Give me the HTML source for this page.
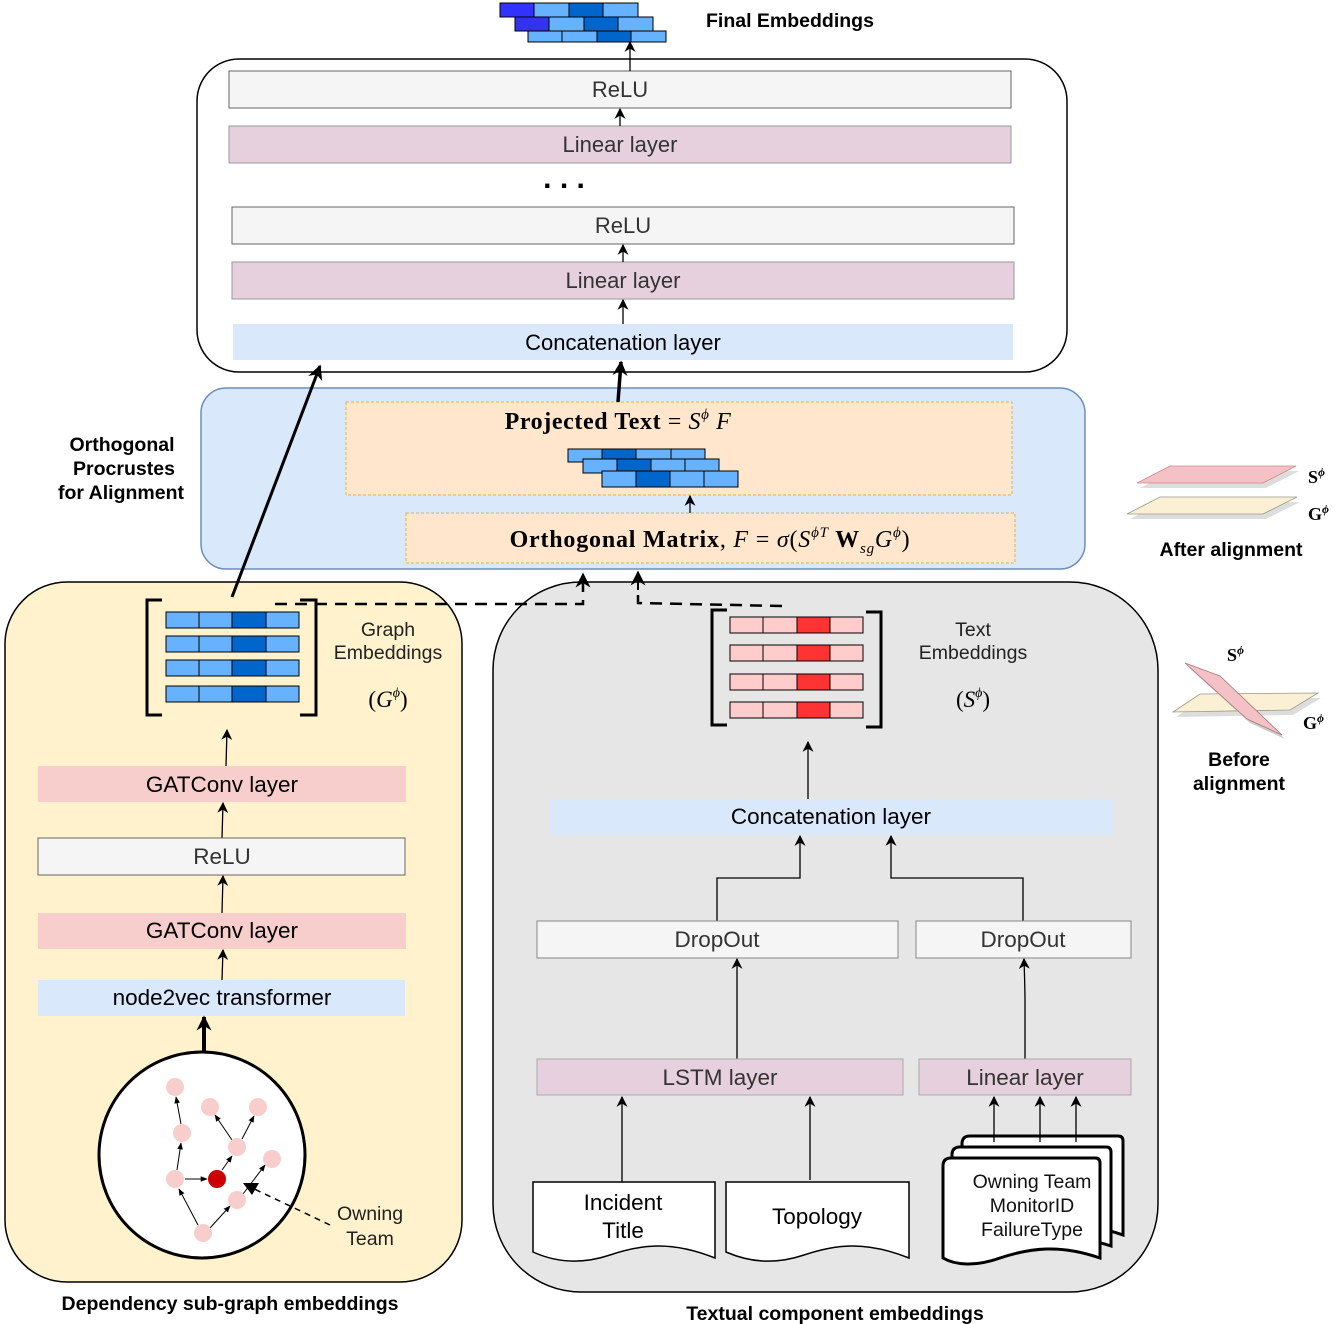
<!DOCTYPE html>
<html><head><meta charset="utf-8"><style>
html,body{margin:0;padding:0;background:#fff;}
svg{display:block;}
text{font-family:"Liberation Sans",sans-serif;}
.m{font-family:"Liberation Serif","DejaVu Serif",serif;}
</style></head><body>
<svg width="1336" height="1324" viewBox="0 0 1336 1324" xmlns="http://www.w3.org/2000/svg">
<defs>
<marker id="a" viewBox="0 0 10 10" refX="9" refY="5" markerWidth="11" markerHeight="11" orient="auto-start-reverse" markerUnits="userSpaceOnUse"><path d="M0,0 L10,5 L0,10 L3,5 z" fill="#000"/></marker>
<marker id="A" viewBox="0 0 10 10" refX="9" refY="5" markerWidth="15" markerHeight="15" orient="auto" markerUnits="userSpaceOnUse"><path d="M0,0 L10,5 L0,10 L3,5 z" fill="#000"/></marker>
<marker id="as" viewBox="0 0 10 10" refX="9" refY="5" markerWidth="7" markerHeight="7" orient="auto" markerUnits="userSpaceOnUse"><path d="M0,1 L10,5 L0,9 z" fill="#000"/></marker>
</defs>

<!-- top box -->
<rect x="197" y="59" width="870" height="313" rx="42" fill="#fff" stroke="#000" stroke-width="1.5"/>
<rect x="229" y="71" width="782" height="37" fill="#f5f5f5" stroke="#666"/>
<text x="620" y="97" font-size="22" text-anchor="middle" fill="#333">ReLU</text>
<rect x="229" y="126" width="782" height="37" fill="#e6d0de" stroke="#999"/>
<text x="620" y="152" font-size="22" text-anchor="middle" fill="#333">Linear layer</text>
<text x="564" y="188" font-size="30" font-weight="bold" text-anchor="middle">. . .</text>
<rect x="232" y="207" width="782" height="37" fill="#f5f5f5" stroke="#666"/>
<text x="623" y="233" font-size="22" text-anchor="middle" fill="#333">ReLU</text>
<rect x="232" y="262" width="782" height="37" fill="#e6d0de" stroke="#999"/>
<text x="623" y="288" font-size="22" text-anchor="middle" fill="#333">Linear layer</text>
<rect x="233" y="324" width="780" height="36" fill="#dae8fc"/>
<text x="623" y="350" font-size="22" text-anchor="middle">Concatenation layer</text>
<line x1="620" y1="126" x2="620" y2="109" stroke="#000" stroke-width="1.3" marker-end="url(#a)"/>
<line x1="623" y1="262" x2="623" y2="245" stroke="#000" stroke-width="1.3" marker-end="url(#a)"/>
<line x1="623" y1="324" x2="623" y2="300" stroke="#000" stroke-width="1.3" marker-end="url(#a)"/>
<line x1="630" y1="71" x2="630" y2="42" stroke="#000" stroke-width="1.3" marker-end="url(#a)"/>

<!-- final embeddings bricks -->
<g stroke="#000" stroke-width="1">
<rect x="500" y="3" width="34" height="14" fill="#3333ff"/><rect x="534" y="3" width="35" height="14" fill="#66b2ff"/><rect x="569" y="3" width="34" height="14" fill="#0066cc"/><rect x="603" y="3" width="35" height="14" fill="#66b2ff"/>
<rect x="515" y="17" width="34" height="14" fill="#3333ee"/><rect x="549" y="17" width="35" height="14" fill="#66b2ff"/><rect x="584" y="17" width="34" height="14" fill="#0066cc"/><rect x="618" y="17" width="35" height="14" fill="#66b2ff"/>
<rect x="528" y="31" width="34" height="11" fill="#66b2ff"/><rect x="562" y="31" width="35" height="11" fill="#66b2ff"/><rect x="597" y="31" width="34" height="11" fill="#0066cc"/><rect x="631" y="31" width="35" height="11" fill="#66b2ff"/>
</g>
<text x="706" y="27" font-size="19.5" font-weight="bold">Final Embeddings</text>

<!-- middle box -->
<rect x="201" y="388" width="884" height="181" rx="25" fill="#dae8fc" stroke="#6c8ebf" stroke-width="1.5"/>
<rect x="346" y="402" width="666" height="93" fill="#ffe6cc" stroke="#d6b656" stroke-dasharray="3,2"/>
<rect x="406" y="513" width="609" height="50" fill="#ffe6cc" stroke="#d6b656" stroke-dasharray="3,2"/>
<text x="618" y="429" font-size="24" text-anchor="middle" class="m" letter-spacing="0.6"><tspan font-weight="bold">Projected Text</tspan> = <tspan font-style="italic">S</tspan><tspan font-size="15" dy="-10" font-style="italic">ϕ</tspan><tspan dy="10" font-style="italic"> F</tspan></text>
<text x="710" y="547" font-size="24" text-anchor="middle" class="m" letter-spacing="0.8"><tspan font-weight="bold">Orthogonal Matrix</tspan>, <tspan font-style="italic">F</tspan> = <tspan font-style="italic">σ</tspan>(<tspan font-style="italic">S</tspan><tspan font-size="15" dy="-10" font-style="italic">ϕT</tspan><tspan dy="10" font-weight="bold"> W</tspan><tspan font-size="15" dy="6" font-style="italic">sg</tspan><tspan dy="-6" font-style="italic">G</tspan><tspan font-size="15" dy="-10" font-style="italic">ϕ</tspan><tspan dy="10">)</tspan></text>
<g stroke="#000" stroke-width="1">
<rect x="568" y="449" width="34" height="13" fill="#66b2ff"/><rect x="602" y="449" width="34" height="13" fill="#0066cc"/><rect x="636" y="449" width="35" height="13" fill="#66b2ff"/><rect x="671" y="449" width="34" height="13" fill="#66b2ff"/>
<rect x="583" y="459" width="34" height="14" fill="#66b2ff"/><rect x="617" y="459" width="34" height="14" fill="#0066cc"/><rect x="651" y="459" width="34" height="14" fill="#66b2ff"/><rect x="685" y="459" width="34" height="14" fill="#66b2ff"/>
<rect x="602" y="471" width="34" height="16" fill="#66b2ff"/><rect x="636" y="471" width="34" height="16" fill="#0066cc"/><rect x="670" y="471" width="34" height="16" fill="#66b2ff"/><rect x="704" y="471" width="34" height="16" fill="#66b2ff"/>
</g>
<line x1="690" y1="513" x2="690" y2="496" stroke="#000" stroke-width="1.3" marker-end="url(#a)"/>
<line x1="618" y1="402" x2="621" y2="362" stroke="#000" stroke-width="3.5" marker-end="url(#A)"/>

<text font-size="19.5" font-weight="bold" text-anchor="middle"><tspan x="122" y="451">Orthogonal</tspan><tspan x="124" y="475">Procrustes</tspan><tspan x="121" y="499">for Alignment</tspan></text>

<!-- left box -->
<rect x="5" y="582" width="457" height="700" rx="62" fill="#fff2cc" stroke="#000" stroke-width="1.5"/>
<!-- right box -->
<rect x="493" y="582" width="665" height="710" rx="88" fill="#e6e6e6" stroke="#000" stroke-width="1.5"/>

<!-- graph matrix -->
<path d="M162,600 H147 V715 H162 M300,600 H316 V715 H300" fill="none" stroke="#000" stroke-width="3"/>
<g stroke="#000" stroke-width="1">
<g id="gr"><rect x="166" y="612" width="33" height="16" fill="#66b2ff"/><rect x="199" y="612" width="33" height="16" fill="#66b2ff"/><rect x="232" y="612" width="34" height="16" fill="#0066cc"/><rect x="266" y="612" width="33" height="16" fill="#66b2ff"/></g>
<use href="#gr" y="24"/><use href="#gr" y="48"/><use href="#gr" y="74"/>
</g>
<text font-size="19.5" text-anchor="middle" fill="#222"><tspan x="388" y="636">Graph</tspan><tspan x="388" y="659">Embeddings</tspan></text>
<text x="388" y="707" font-size="23" text-anchor="middle" class="m">(<tspan font-style="italic">G</tspan><tspan font-size="14" dy="-10" font-style="italic">ϕ</tspan><tspan dy="10">)</tspan></text>

<line x1="232" y1="597" x2="320" y2="366" stroke="#000" stroke-width="3" marker-end="url(#A)"/>
<path d="M275,604 H583 V575" fill="none" stroke="#000" stroke-width="2.5" stroke-dasharray="12,8"/>
<path d="M583,590 V574" stroke="#000" stroke-width="2" marker-end="url(#A)"/>
<path d="M782,606 L638,603 V588" fill="none" stroke="#000" stroke-width="2.5" stroke-dasharray="12,8"/>
<path d="M638,590 V572" stroke="#000" stroke-width="2" marker-end="url(#A)"/>

<line x1="226" y1="766" x2="227" y2="730" stroke="#000" stroke-width="1.3" marker-end="url(#a)"/>
<rect x="38" y="766" width="368" height="36" fill="#f8cecc"/>
<text x="222" y="792" font-size="22.5" text-anchor="middle">GATConv layer</text>
<line x1="222" y1="838" x2="223" y2="803" stroke="#000" stroke-width="1.3" marker-end="url(#a)"/>
<rect x="38" y="838" width="367" height="37" fill="#f5f5f5" stroke="#666"/>
<text x="222" y="864" font-size="22.5" text-anchor="middle" fill="#333">ReLU</text>
<line x1="222" y1="913" x2="223" y2="876" stroke="#000" stroke-width="1.3" marker-end="url(#a)"/>
<rect x="38" y="913" width="368" height="36" fill="#f8cecc"/>
<text x="222" y="938" font-size="22.5" text-anchor="middle">GATConv layer</text>
<line x1="222" y1="980" x2="223" y2="950" stroke="#000" stroke-width="1.3" marker-end="url(#a)"/>
<rect x="38" y="980" width="367" height="36" fill="#dae8fc"/>
<text x="222" y="1005" font-size="22.5" text-anchor="middle">node2vec transformer</text>
<line x1="204" y1="1055" x2="204" y2="1017" stroke="#000" stroke-width="4" marker-end="url(#A)"/>

<!-- graph circle -->
<circle cx="202" cy="1155" r="103" fill="#fff" stroke="#000" stroke-width="3"/>
<g stroke="#000" stroke-width="1" marker-end="url(#as)">
<line x1="181" y1="1124" x2="176" y2="1097"/>
<line x1="177" y1="1170" x2="181" y2="1143"/>
<line x1="185" y1="1179" x2="207" y2="1179"/>
<line x1="198" y1="1225" x2="179" y2="1189"/>
<line x1="210" y1="1228" x2="230" y2="1206"/>
<line x1="243" y1="1194" x2="265" y2="1165"/>
<line x1="222" y1="1170" x2="232" y2="1156"/>
<line x1="232" y1="1140" x2="215" y2="1115"/>
<line x1="242" y1="1139" x2="254" y2="1116"/>
</g>
<g fill="#f8cecc">
<circle cx="175" cy="1087" r="9"/><circle cx="210" cy="1107" r="9"/><circle cx="258" cy="1107" r="9"/><circle cx="182" cy="1133" r="9"/><circle cx="237" cy="1147" r="9"/><circle cx="272" cy="1159" r="9"/><circle cx="175" cy="1179" r="9"/><circle cx="237" cy="1200" r="9"/><circle cx="203" cy="1233" r="9"/>
</g>
<circle cx="217" cy="1179" r="9" fill="#cc0000"/>
<line x1="330" y1="1225" x2="248" y2="1186" stroke="#000" stroke-width="1.5" stroke-dasharray="6,5"/>
<path d="M243,1183 L259,1183 L252,1195 z" fill="#000"/>
<text font-size="19.5" text-anchor="middle" fill="#222"><tspan x="370" y="1220">Owning</tspan><tspan x="370" y="1245">Team</tspan></text>
<text x="230" y="1310" font-size="19.5" font-weight="bold" text-anchor="middle">Dependency sub-graph embeddings</text>

<!-- text matrix -->
<path d="M727,610 H712 V725 H727 M866,727 H881 V612 H866" fill="none" stroke="#000" stroke-width="3"/>
<g stroke="#000" stroke-width="1">
<g id="tr"><rect x="730" y="617" width="33" height="16" fill="#ffcccc"/><rect x="763" y="617" width="34" height="16" fill="#ffcccc"/><rect x="797" y="617" width="33" height="16" fill="#ff3333"/><rect x="830" y="617" width="33" height="16" fill="#ffcccc"/></g>
<use href="#tr" y="28"/><use href="#tr" y="57"/><use href="#tr" y="85"/>
</g>
<text font-size="19.5" text-anchor="middle" fill="#222"><tspan x="973" y="636">Text</tspan><tspan x="973" y="659">Embeddings</tspan></text>
<text x="973" y="707" font-size="23" text-anchor="middle" class="m">(<tspan font-style="italic">S</tspan><tspan font-size="14" dy="-10" font-style="italic">ϕ</tspan><tspan dy="10">)</tspan></text>

<line x1="808" y1="799" x2="808" y2="742" stroke="#000" stroke-width="1.3" marker-end="url(#a)"/>
<rect x="549" y="799" width="565" height="36" fill="#dae8fc"/>
<text x="831" y="824" font-size="22.5" text-anchor="middle">Concatenation layer</text>
<path d="M717,921 V878 H800 V836" fill="none" stroke="#000" stroke-width="1.3" marker-end="url(#a)"/>
<path d="M1023,921 V878 H891 V836" fill="none" stroke="#000" stroke-width="1.3" marker-end="url(#a)"/>
<rect x="537" y="921" width="361" height="37" fill="#f5f5f5" stroke="#888"/>
<text x="717" y="947" font-size="22.5" text-anchor="middle" fill="#333">DropOut</text>
<rect x="916" y="921" width="215" height="37" fill="#f5f5f5" stroke="#888"/>
<text x="1023" y="947" font-size="22.5" text-anchor="middle" fill="#333">DropOut</text>
<line x1="737" y1="1059" x2="737" y2="959" stroke="#000" stroke-width="1.3" marker-end="url(#a)"/>
<path d="M1025,1059 V1000 Q1025,990 1024,959" fill="none" stroke="#000" stroke-width="1.3" marker-end="url(#a)"/>
<rect x="537" y="1059" width="366" height="36" fill="#e6d0de" stroke="#aaa"/>
<text x="720" y="1085" font-size="22.5" text-anchor="middle" fill="#333">LSTM layer</text>
<rect x="919" y="1059" width="212" height="36" fill="#e6d0de" stroke="#aaa"/>
<text x="1025" y="1085" font-size="22.5" text-anchor="middle" fill="#333">Linear layer</text>
<line x1="622" y1="1182" x2="622" y2="1097" stroke="#000" stroke-width="1.3" marker-end="url(#a)"/>
<line x1="810" y1="1180" x2="810" y2="1097" stroke="#000" stroke-width="1.3" marker-end="url(#a)"/>

<!-- docs -->
<path d="M533,1182 H715 V1258 C670,1240 640,1245 610,1255 C580,1265 555,1262 533,1252 Z" fill="#fff" stroke="#000" stroke-width="1.5"/>
<text font-size="22.5" text-anchor="middle"><tspan x="623" y="1210">Incident</tspan><tspan x="623" y="1238">Title</tspan></text>
<path d="M726,1182 H909 V1258 C864,1240 834,1245 804,1255 C774,1265 749,1262 726,1252 Z" fill="#fff" stroke="#000" stroke-width="1.5"/>
<text x="817" y="1224" font-size="22.5" text-anchor="middle">Topology</text>
<g fill="#fff" stroke="#000" stroke-width="3">
<path d="M970,1136 H1118 Q1123,1136 1123,1141 V1235 C1080,1220 1050,1225 1020,1235 L962,1230 V1144 Q962,1136 970,1136 Z"/>
<path d="M960,1147 H1106 Q1111,1147 1111,1152 V1246 C1070,1232 1040,1236 1010,1246 L952,1240 V1155 Q952,1147 960,1147 Z"/>
<path d="M951,1158 H1095 Q1100,1158 1100,1163 V1258 C1060,1244 1030,1248 1000,1258 C975,1267 955,1265 943,1258 V1166 Q943,1158 951,1158 Z"/>
</g>
<g stroke="#000" stroke-width="1.3" marker-end="url(#a)">
<line x1="994" y1="1142" x2="994" y2="1097"/><line x1="1040" y1="1142" x2="1040" y2="1097"/><line x1="1076" y1="1142" x2="1076" y2="1097"/>
</g>
<text font-size="19.5" text-anchor="middle" fill="#111"><tspan x="1032" y="1188">Owning Team</tspan><tspan x="1032" y="1212">MonitorID</tspan><tspan x="1032" y="1236">FailureType</tspan></text>
<text x="835" y="1320" font-size="19.5" font-weight="bold" text-anchor="middle">Textual component embeddings</text>

<!-- planes -->
<polygon points="1140,488 1173,471 1299,471 1266,488" fill="#ddd"/>
<polygon points="1137,483 1170,466 1296,466 1263,483" fill="#f4c2c6" stroke="#c88" stroke-width="0.8"/>
<polygon points="1130,519 1163,502 1300,502 1266,519" fill="#ddd"/>
<polygon points="1127,514 1160,497 1297,497 1263,514" fill="#fbf0d4" stroke="#998" stroke-width="0.8"/>
<text x="1308" y="483" font-size="18" font-weight="bold" class="m">S<tspan font-size="12" dy="-7" font-style="italic">ϕ</tspan></text>
<text x="1308" y="520" font-size="18" font-weight="bold" class="m">G<tspan font-size="12" dy="-7" font-style="italic">ϕ</tspan></text>
<text x="1231" y="556" font-size="19.5" font-weight="bold" text-anchor="middle">After alignment</text>

<polygon points="1176,717 1203,699 1321,698 1293,715" fill="#ddd"/>
<polygon points="1173,712 1200,694 1318,693 1290,710" fill="#fbf0d4" stroke="#998" stroke-width="0.8"/>
<polygon points="1188,667 1223,680 1285,739 1250,723" fill="#ccc"/>
<polygon points="1185,663 1220,676 1282,735 1247,719" fill="#f4c2c6" stroke="#a77" stroke-width="0.8"/>
<text x="1227" y="661" font-size="18" font-weight="bold" class="m">S<tspan font-size="12" dy="-7" font-style="italic">ϕ</tspan></text>
<text x="1303" y="729" font-size="18" font-weight="bold" class="m">G<tspan font-size="12" dy="-7" font-style="italic">ϕ</tspan></text>
<text font-size="19.5" font-weight="bold" text-anchor="middle"><tspan x="1239" y="766">Before</tspan><tspan x="1239" y="790">alignment</tspan></text>
</svg>
</body></html>
